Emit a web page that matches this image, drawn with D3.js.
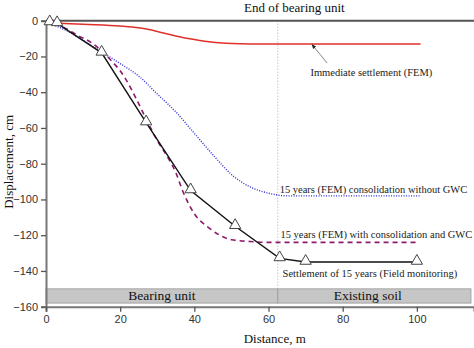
<!DOCTYPE html>
<html><head><meta charset="utf-8">
<script src="https://cdn.jsdelivr.net/npm/d3@7"></script>
<style>body{margin:0;background:#fff;}svg{display:block;}</style>
</head><body>
<svg id="c" width="474" height="348"></svg>
<script>
// ---- data ----
const xTicks = [0, 20, 40, 60, 80, 100];
const yTicks = [0, -20, -40, -60, -80, -100, -120, -140, -160];
const immediateX = [0, 5, 10, 20, 25, 30, 35, 40, 45, 50, 60, 80, 101];
const immediateY = [-1, -1.5, -2, -3, -4, -6, -8.5, -10.5, -12, -12.7, -13, -13, -13];
const noGwcX = [0, 5, 10, 15, 20, 25, 30, 35, 40, 45, 50, 55, 60, 65, 80, 101];
const noGwcY = [-1, -5, -11, -17.5, -24, -31, -41, -51, -63, -75, -86, -93, -96.5, -98, -98, -98];
const gwcX = [0, 5, 8.3, 12, 17, 21, 24.4, 27, 30, 33, 35, 37, 40, 44, 50, 55, 60, 100];
const gwcY = [-1, -4, -8, -12, -21, -31, -44, -55, -67, -77, -85, -96, -108, -116, -122.5, -123.5, -124, -124];
const fieldX = [1, 3, 15, 27, 39, 51, 63, 70, 100];
const fieldY = [-1, -1.5, -18, -57, -95, -115, -133, -135, -135];
const zones = ["Bearing unit", "Existing soil"];
const zoneStart = [0, 62.5];
const zoneEnd = [62.5, 115.4];

// ---- scales ----
const svg = d3.select("#c");
const x = d3.scaleLinear().domain([0, 115.4]).range([46, 474]);
const y = d3.scaleLinear().domain([0, -160]).range([20.7, 306.7]);
const serif = "'Liberation Serif','Times New Roman',serif";
const sans = "'Liberation Sans',Arial,sans-serif";

// zone band
zones.forEach((z, i) => {
  svg.append("rect").attr("x", x(zoneStart[i])).attr("y", y(-150))
    .attr("width", x(zoneEnd[i]) - x(zoneStart[i]) - (i === 1 ? 3 : 0)).attr("height", y(-158) - y(-150))
    .attr("fill", "#c6c6c6").attr("stroke", "#9a9a9a").attr("stroke-width", 0.8);
  svg.append("text").attr("x", (x(zoneStart[i]) + x(Math.min(zoneEnd[i], 111))) / 2).attr("y", y(-156))
    .attr("text-anchor", "middle").attr("font-family", serif).attr("font-size", 13.5).attr("fill", "#111").text(z);
});

// vertical dotted line at end of bearing unit
svg.append("line").attr("x1", x(62.5)).attr("x2", x(62.5)).attr("y1", y(0)).attr("y2", y(-158))
  .attr("stroke", "#aaa").attr("stroke-width", 1).attr("stroke-dasharray", "1,2");

// axes
const yAxis = d3.axisLeft(y).tickValues(yTicks).tickSize(5).tickPadding(3);
const gy = svg.append("g").attr("transform", `translate(${x(0)},0)`).call(yAxis);
gy.select(".domain").attr("stroke", "#777").attr("stroke-width", 2);
gy.selectAll(".tick line").attr("stroke", "#555").attr("stroke-width", 1.3);
gy.selectAll("text").attr("font-family", sans).attr("font-size", 11).attr("fill", "#333");

const xAxis = d3.axisBottom(x).tickValues(xTicks).tickSize(5).tickPadding(4);
const gx = svg.append("g").attr("transform", `translate(0,${y(-160)})`).call(xAxis);
gx.select(".domain").attr("stroke", "#777").attr("stroke-width", 2);
gx.selectAll(".tick line").attr("stroke", "#555").attr("stroke-width", 1.3);
gx.selectAll("text").attr("font-family", sans).attr("font-size", 11).attr("fill", "#333");

// top zero line
svg.append("line").attr("x1", x(0)).attr("x2", x(115.4)).attr("y1", y(0)).attr("y2", y(0))
  .attr("stroke", "#555").attr("stroke-width", 2);

// lines
const line = d3.line().x(d => x(d[0])).y(d => y(d[1]));
const smooth = d3.line().x(d => x(d[0])).y(d => y(d[1])).curve(d3.curveMonotoneX);
const zip = (a, b) => a.map((v, i) => [v, b[i]]);

svg.append("path").datum(zip(immediateX, immediateY)).attr("d", smooth)
  .attr("fill", "none").attr("stroke", "#e0302a").attr("stroke-width", 1.5);
svg.append("path").datum(zip(noGwcX, noGwcY)).attr("d", smooth)
  .attr("fill", "none").attr("stroke", "#2a2ad0").attr("stroke-width", 1.4).attr("stroke-dasharray", "1,1.5");
svg.append("path").datum(zip(gwcX, gwcY)).attr("d", smooth)
  .attr("fill", "none").attr("stroke", "#8b1a6b").attr("stroke-width", 1.6).attr("stroke-dasharray", "5,4");
const field = zip(fieldX, fieldY);
svg.append("path").datum(field).attr("d", line)
  .attr("fill", "none").attr("stroke", "#111").attr("stroke-width", 1.4);
svg.selectAll(".tri").data(field).enter().append("path")
  .attr("transform", d => `translate(${x(d[0])},${y(d[1]) - 1})`)
  .attr("d", d3.symbol().type(d3.symbolTriangle).size(55))
  .attr("fill", "#fff").attr("stroke", "#444").attr("stroke-width", 1);

// annotations
svg.append("defs").append("marker").attr("id", "ah").attr("viewBox", "0 0 10 10")
  .attr("refX", 9).attr("refY", 5).attr("markerWidth", 6).attr("markerHeight", 6).attr("orient", "auto")
  .append("path").attr("d", "M0,1 L10,5 L0,9 z").attr("fill", "#222");
svg.append("line").attr("x1", x(75.8)).attr("y1", y(-23.7)).attr("x2", x(71.7)).attr("y2", y(-13.3))
  .attr("stroke", "#666").attr("stroke-width", 0.8).attr("marker-end", "url(#ah)");

const notes = [
  ["Immediate settlement (FEM)", 71.3, -31],
  ["15 years (FEM) consolidation without GWC", 63, -96.6],
  ["15 years (FEM) with consolidation and GWC", 63.2, -121.8],
  ["Settlement of 15 years (Field monitoring)", 63.8, -143.2]
];
notes.forEach(n => svg.append("text").attr("x", x(n[1])).attr("y", y(n[2]))
  .attr("font-family", serif).attr("font-size", 10.5).attr("fill", "#222").text(n[0]));

svg.append("text").attr("x", 244).attr("y", 12).attr("font-family", serif).attr("font-size", 13)
  .attr("fill", "#111").text("End of bearing unit");
svg.append("text").attr("x", x(53.3)).attr("y", 343).attr("font-family", serif).attr("font-size", 13)
  .attr("fill", "#111").text("Distance, m");
svg.append("text").attr("transform", `translate(13,${y(-79)}) rotate(-90)`).attr("text-anchor", "middle")
  .attr("font-family", serif).attr("font-size", 13).attr("fill", "#111").text("Displacement, cm");
</script>
</body></html>
